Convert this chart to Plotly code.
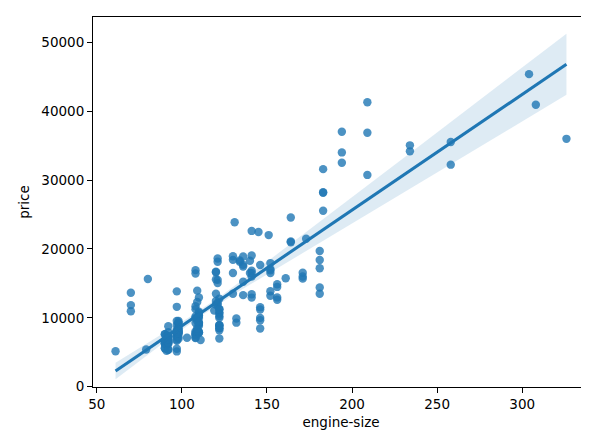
import numpy as np
import plotly.graph_objects as go

# automobile data: engine-size vs price (rows with missing price dropped)
engine_size = [
    130, 130, 152, 109, 136, 136, 136, 136, 131, 108, 108, 164, 164, 164, 209, 209, 209,
    61, 90, 90, 90, 90, 98, 90, 90, 90, 98, 122, 156,
    92, 92, 79, 92, 92, 92, 92, 110, 110, 110, 110, 110, 110,
    111, 119, 258, 258, 326,
    91, 91, 91, 91, 91, 70, 70, 70, 80, 122, 122, 122, 122, 122, 122, 140, 134,
    183, 183, 183, 183, 234, 234, 308, 304, 140,
    92, 92, 92, 98, 110, 122, 156, 156, 156, 122, 122, 110, 110,
    97, 103, 97, 97, 97, 97, 97, 97, 97, 97, 97, 97, 120, 181, 181, 181, 181, 181,
    120, 152, 120, 152, 120, 152, 120, 152, 120, 152, 134,
    90, 98, 90, 90, 90, 98, 122,
    151, 194, 194, 194,
    132, 132, 121, 121, 121, 121, 121, 121,
    97, 108, 108, 108, 108, 108, 108, 108, 108, 108, 108, 108,
    92, 92, 92, 92, 92, 92, 98, 98, 110, 110, 98, 98, 98, 98, 98, 98, 98,
    146, 146, 146, 146, 146, 146, 122, 110, 122, 110, 122, 171, 171, 171, 161,
    97, 109, 97, 109, 109, 109, 109, 97, 109, 136, 97, 109,
    141, 141, 141, 141, 130, 130, 141, 141, 173, 145, 141,
]
price = [
    13495, 16500, 16500, 13950, 17450, 15250, 17710, 18920, 23875, 16430, 16925, 20970, 21105, 24565, 30760, 41315, 36880,
    5151, 6295, 6575, 5572, 6377, 7957, 6229, 6692, 7609, 8558, 8921, 12964,
    6479, 6855, 5399, 6529, 7129, 7295, 7295, 7895, 9095, 8845, 10295, 12945, 10345,
    6785, 11048, 32250, 35550, 36000,
    5195, 6095, 6795, 6695, 7395, 10945, 11845, 13645, 15645, 8845, 8495, 10595, 10245, 10795, 11245, 18280, 18344,
    25552, 28248, 28176, 31600, 34184, 35056, 40960, 45400, 16503,
    5389, 6189, 6669, 7689, 9959, 8499, 12629, 14869, 14489, 6989, 8189, 9279, 9279,
    5499, 7099, 6649, 6849, 7349, 7299, 7799, 7499, 7999, 8249, 8949, 9549, 13499, 14399, 13499, 17199, 19699, 18399,
    11900, 13200, 12440, 13860, 15580, 16900, 16695, 17075, 16630, 17950, 18150,
    5572, 7957, 6229, 6692, 7609, 8921, 12764,
    22018, 32528, 34028, 37028,
    9295, 9895, 11850, 12170, 15040, 15510, 18150, 18620,
    5118, 7053, 7603, 7126, 7775, 9960, 9233, 11259, 7463, 10198, 8013, 11694,
    5348, 6338, 6488, 6918, 7898, 8778, 6938, 7198, 7898, 7788, 7738, 8358, 9258, 8058, 8238, 9298, 9538,
    8449, 9639, 9989, 11199, 11549, 17669, 8948, 10698, 9988, 10898, 11248, 16558, 15998, 15690, 15750,
    7775, 7975, 7995, 8195, 8495, 9495, 9995, 11595, 9980, 13295, 13845, 12290,
    12940, 13415, 15985, 16515, 18420, 18950, 16845, 19045, 21485, 22470, 22625,
]

x = np.array(engine_size, dtype=float)
y = np.array(price, dtype=float)

# least squares fit
X = np.column_stack([np.ones_like(x), x])
beta, *_ = np.linalg.lstsq(X, y, rcond=None)
resid = y - X @ beta

# robust (HC3) covariance, close to what a pairs bootstrap gives
XtX_inv = np.linalg.inv(X.T @ X)
h = np.einsum("ij,jk,ik->i", X, XtX_inv, X)
meat = (X * (resid / (1 - h))[:, None] ** 2).T @ X
cov = XtX_inv @ meat @ XtX_inv

grid = np.linspace(x.min(), x.max(), 100)
G = np.column_stack([np.ones_like(grid), grid])
yhat = G @ beta
se = np.sqrt(np.einsum("ij,jk,ik->i", G, cov, G))
upper = yhat + 1.96 * se
lower = yhat - 1.96 * se

blue = "#1f77b4"

fig = go.Figure()
fig.add_trace(go.Scatter(x=x, y=y, mode="markers",
                         marker=dict(color=blue, size=8.4, opacity=0.8, line=dict(width=0)),
                         showlegend=False, hoverinfo="x+y"))
fig.add_trace(go.Scatter(x=np.concatenate([grid, grid[::-1]]),
                         y=np.concatenate([upper, lower[::-1]]),
                         fill="toself", fillcolor="rgba(31,119,180,0.15)",
                         line=dict(width=0), mode="lines",
                         showlegend=False, hoverinfo="skip"))
fig.add_trace(go.Scatter(x=grid, y=yhat, mode="lines",
                         line=dict(color=blue, width=3.1),
                         showlegend=False))

axis_style = dict(showgrid=False, zeroline=False, showline=True, linecolor="black",
                  linewidth=1.1, mirror=True, ticks="outside", ticklen=5, tickwidth=1.1,
                  tickcolor="black", tickfont=dict(family="DejaVu Sans", size=13.5, color="black"))

fig.update_layout(
    width=589, height=432,
    margin=dict(l=85, r=8, t=9, b=53),
    plot_bgcolor="white", paper_bgcolor="white",
    font=dict(family="DejaVu Sans", size=13.5, color="black"),
    xaxis=dict(range=[47.75, 339.25], dtick=50, tick0=0,
               title=dict(text="engine-size", standoff=6, font=dict(size=13.5)), **axis_style),
    yaxis=dict(range=[-50, 53700], dtick=10000, tick0=0, tickformat="d",
               title=dict(text="price", standoff=8, font=dict(size=13.5)), **axis_style),
)

fig.write_html("out.html")
